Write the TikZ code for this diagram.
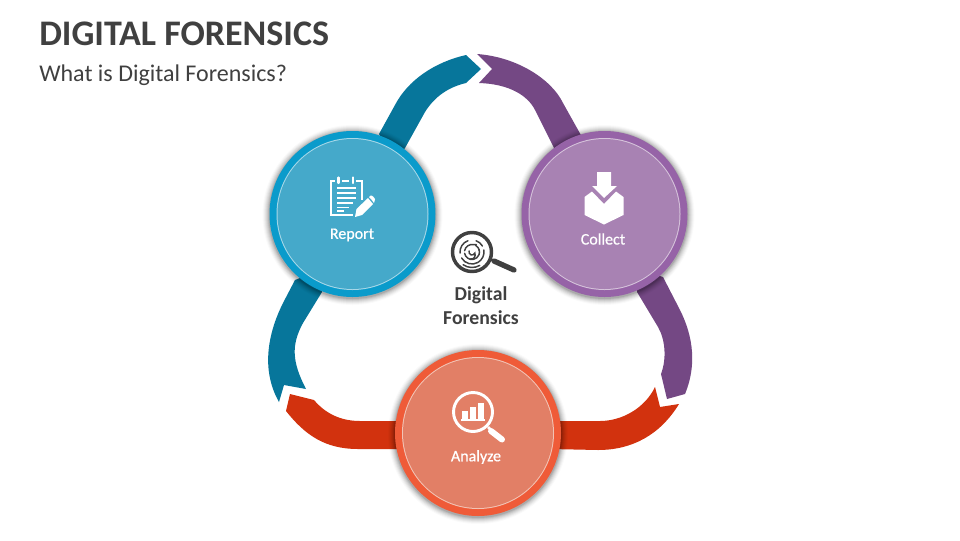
\documentclass[tikz,border=0pt]{standalone}
\usepackage{fontspec}
\setmainfont{Carlito}
\newfontfamily\semib[FakeBold=0.6]{Carlito}
\definecolor{tealA}{HTML}{07769B}\definecolor{tealB}{HTML}{0A9BCB}\definecolor{tealC}{HTML}{45A9CA}\definecolor{tealD}{HTML}{A8D8E8}
\definecolor{purA}{HTML}{744884}\definecolor{purB}{HTML}{9663A7}\definecolor{purC}{HTML}{A882B3}\definecolor{purD}{HTML}{D6C4DB}
\definecolor{redA}{HTML}{D2320E}\definecolor{redB}{HTML}{EF5B38}\definecolor{redC}{HTML}{E27F66}\definecolor{redD}{HTML}{F2C4B6}
\definecolor{ink}{HTML}{404040}
\tikzset{
 disc/.pic={
  \foreach \r/\o in {90/.02,89/.03,88/.04,87/.05,86/.06,85/.08,84/.10}{\fill[black,opacity=\o] (0,1) circle (\r);}
  \fill[ringcol] (0,0) circle (83);
  \fill[ringline] (0,0) circle (76);
  \fill[corecol] (0,0) circle (75);
 },
 ringcol/.style={fill=tealB}, ringline/.style={fill=tealD}, corecol/.style={fill=tealC},
 lab/.style={text=white,font=\semib\fontsize{12pt}{14pt}\selectfont,inner sep=0pt},
 centerlab/.style={text=ink,font=\bfseries\fontsize{14.8pt}{17pt}\selectfont,inner sep=0pt},
 ico/.style={white,line width=1.5pt},
}
\begin{document}
\begin{tikzpicture}[x=0.75pt,y=-0.75pt]
\useasboundingbox (0,0) rectangle (960,540);
\fill[white] (0,0) rectangle (960,540);
\node[anchor=base west,inner sep=0pt,text=ink,font=\bfseries\fontsize{27pt}{31pt}\selectfont] (title) at (39,45) {DIGITAL FORENSICS};
\node[anchor=base west,inner sep=0pt,text=ink,font=\fontsize{18pt}{22pt}\selectfont] (subtitle) at (39,81) {What is Digital Forensics?};
% ribbons
\fill[tealA] (379,134) -- (395,105) .. controls (408,80) and (435,62) .. (466,55) -- (481,69) -- (466,83) .. controls (449,87) and (435,96) .. (425,112) -- (405,148) -- (395,160) -- cycle;
\fill[purA] (477,54) .. controls (518,57) and (552,80) .. (563,103) -- (582,137) -- (570,160) -- (555,150) -- (535,110) .. controls (528,96) and (510,84) .. (479,83) -- (492,69) -- cycle;
\fill[tealA] (295,280) -- (283,303) .. controls (272,325) and (258,365) .. (279,402) -- (284,385) -- (306,389) .. controls (292,362) and (291,345) .. (303,323) -- (322,292) -- (320,270) -- cycle;
\fill[redA] (290,394) -- (314,400) .. controls (325,413) and (340,421) .. (360,421) -- (410,421) -- (410,449) -- (358,449) .. controls (325,449) and (305,435) .. (286,411) -- cycle;
\fill[purA] (663,277) -- (680,310) .. controls (690,330) and (699,360) .. (685,394) -- (667,399) -- (661,374) .. controls (667,358) and (665,339) .. (658,327) -- (637,292) -- (640,270) -- cycle;
\fill[redA] (550,421) -- (600,421) .. controls (622,421) and (645,408) .. (655,387) -- (660,407) -- (679,404) .. controls (660,435) and (632,450) .. (598,450) -- (550,449) -- cycle;
% discs
\pic at (352.5,214) {disc};
\begin{scope}[ringcol/.style={fill=purB},ringline/.style={fill=purD},corecol/.style={fill=purC}]
\pic at (604.5,214) {disc};
\end{scope}
\begin{scope}[ringcol/.style={fill=redB},ringline/.style={fill=redD},corecol/.style={fill=redC}]
\pic at (478,433) {disc};
\end{scope}
% labels
\node[lab] (report) at (352,235) {Report};
\node[lab] (collect) at (603,239) {Collect};
\node[lab] (analyze) at (476,457) {Analyze};
\node[centerlab] (cdigital) at (481,295) {Digital};
\node[centerlab] (cforensics) at (481,318) {Forensics};
% report icon
\draw[ico,line width=1.6pt] (335,181) -- (331,181) -- (331,215) -- (353,215);
\draw[ico,line width=1.6pt] (342,181) -- (349,181);
\draw[ico,line width=1.6pt] (356,181) -- (362,181) -- (362,200);
\draw[ico,line width=1.6pt,line cap=round] (338.5,177.5) -- (338.5,183);
\draw[ico,line width=1.6pt,line cap=round] (353,177.5) -- (353,183);
\foreach \yy/\xe in {188/356,193/356,198/356,203/353,207.5/349,211/344}{\draw[ico,line width=1.4pt] (337,\yy) -- (\xe,\yy);}
\fill[tealC] (349,221) -- (369,195) -- (376,200) -- (356,224) -- cycle;
\fill[white] (355,217) -- (356.5,209) -- (368,198) -- (373,204) -- (362,215) -- cycle;
\fill[white] (369,197) -- (371,199) -- (374,203) -- (375,199.5) .. controls (375,198) and (372,195) .. (370.5,195.5) -- cycle;
% collect icon
\fill[white] (584.5,197) -- (592,191.5) -- (604,204) -- (616,191.5) -- (623.5,197) -- (623.5,215) -- (604,224.5) -- (584.5,215) -- cycle;
\fill[purC] (590,186) -- (619,186) -- (604,202) -- cycle;
\fill[white] (597,172) -- (611,172) -- (611,186) -- (617,186) -- (604,198) -- (592,186) -- (597,186) -- cycle;
% analyze icon
\draw[white,line width=2.2pt] (473,412) circle (19.5);
\draw[white,line width=2pt] (488,427) -- (491,430);
\draw[white,line width=4.5pt,line cap=round] (491,431) -- (502,439.5);
\fill[white] (462,411) rectangle (468,419);
\fill[white] (470,407) rectangle (476,419);
\fill[white] (478,403) rectangle (484,419);
\fill[white] (461,419) rectangle (485,420.5);
% centre icon
\draw[ink,line width=2.6pt] (472,252) circle (19.5);
\draw[ink,line width=2pt] (490,259) -- (494,261);
\draw[ink,line width=4pt,line cap=round] (494,261) -- (514,270);
\begin{scope}[ink,line width=1.1pt,line cap=round]
\draw (472,252) ++(200:3) arc (200:20:3) .. controls (476,256) and (474,260) .. (470,259);
\draw (472,252) ++(170:7.5) arc (170:-20:7.5);
\draw (472,252) ++(190:7.5) arc (190:280:7.5) -- ++(3,0);
\draw (472,252) ++(150:12) arc (150:-10:12);
\draw (472,252) ++(175:12) arc (175:250:12);
\draw (472,252) ++(-30:12) arc (-30:-70:12);
\draw (472,252) ++(125:15.5) arc (125:60:15.5);
\draw (472,252) ++(-12:7.5) arc (-12:-60:7.5);
\end{scope}
\end{tikzpicture}
\end{document}
